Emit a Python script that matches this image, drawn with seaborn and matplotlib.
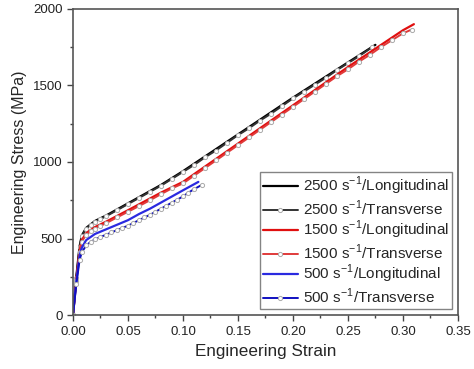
import numpy as np
import pandas as pd
import matplotlib
matplotlib.use("Agg")
import matplotlib.pyplot as plt
import seaborn as sns
from matplotlib.ticker import MultipleLocator

# === Data ===
strain_2500_l = [0, 0.003, 0.006, 0.008, 0.012, 0.02, 0.03, 0.05, 0.08, 0.10, 0.125, 0.15, 0.175, 0.20, 0.225, 0.25, 0.275]
stress_2500_l = [0, 250, 450, 520, 570, 615, 650, 730, 850, 940, 1060, 1180, 1300, 1420, 1535, 1650, 1765]
strain_2500_t = [0, 0.003, 0.006, 0.008, 0.012, 0.016, 0.02, 0.025, 0.03, 0.04, 0.05, 0.06, 0.07, 0.08, 0.09, 0.10,
                 0.11, 0.12, 0.13, 0.14, 0.15, 0.16, 0.17, 0.18, 0.19, 0.20, 0.21, 0.22, 0.23, 0.24, 0.25, 0.26, 0.272]
stress_2500_t = [0, 245, 445, 515, 565, 590, 610, 628, 645, 685, 725, 765, 805, 845, 890, 935,
                 980, 1030, 1075, 1125, 1175, 1220, 1270, 1315, 1365, 1415, 1460, 1505, 1550, 1600, 1645, 1690, 1750]

strain_1500_l = [0, 0.003, 0.006, 0.008, 0.012, 0.02, 0.03, 0.05, 0.08, 0.10, 0.125, 0.15, 0.175, 0.20, 0.225, 0.25, 0.275, 0.30, 0.31]
stress_1500_l = [0, 230, 420, 490, 535, 575, 610, 685, 800, 870, 995, 1120, 1245, 1370, 1495, 1620, 1740, 1860, 1900]
strain_1500_t = [0, 0.003, 0.006, 0.008, 0.012, 0.016, 0.02, 0.025, 0.03, 0.04, 0.05, 0.06, 0.07, 0.08, 0.09, 0.10,
                 0.11, 0.12, 0.13, 0.14, 0.15, 0.16, 0.17, 0.18, 0.19, 0.20, 0.21, 0.22, 0.23, 0.24, 0.25,
                 0.26, 0.27, 0.28, 0.29, 0.30, 0.308]
stress_1500_t = [0, 225, 410, 480, 525, 548, 565, 583, 600, 638, 675, 712, 750, 790, 828, 860,
                 910, 960, 1010, 1060, 1110, 1160, 1210, 1260, 1310, 1360, 1410, 1460, 1510, 1560, 1605,
                 1655, 1700, 1750, 1795, 1840, 1865]

strain_500_l = [0, 0.003, 0.006, 0.008, 0.012, 0.02, 0.03, 0.04, 0.05, 0.06, 0.07, 0.08, 0.09, 0.10, 0.114]
stress_500_l = [0, 220, 390, 440, 490, 530, 560, 590, 620, 660, 695, 735, 775, 815, 870]
strain_500_t = [0, 0.003, 0.006, 0.008, 0.012, 0.016, 0.02, 0.025, 0.03, 0.035, 0.04, 0.045, 0.05, 0.055, 0.06,
                0.065, 0.07, 0.075, 0.08, 0.085, 0.09, 0.095, 0.10, 0.105, 0.11, 0.117]
stress_500_t = [0, 200, 360, 410, 455, 478, 495, 510, 525, 540, 555, 570, 584, 602, 620,
                638, 655, 675, 695, 715, 735, 755, 775, 800, 822, 850]

labels = ["2500 s$^{-1}$/Longitudinal", "2500 s$^{-1}$/Transverse",
          "1500 s$^{-1}$/Longitudinal", "1500 s$^{-1}$/Transverse",
          "500 s$^{-1}$/Longitudinal", "500 s$^{-1}$/Transverse"]

series = [
    (strain_2500_l, stress_2500_l, labels[0], "black", None),
    (strain_2500_t, stress_2500_t, labels[1], "#333333", "o"),
    (strain_1500_l, stress_1500_l, labels[2], "#e01010", None),
    (strain_1500_t, stress_1500_t, labels[3], "#e03a3a", "o"),
    (strain_500_l, stress_500_l, labels[4], "#2a2ae0", None),
    (strain_500_t, stress_500_t, labels[5], "#1010c0", "o"),
]

sns.set_style("ticks")
plt.rcParams["font.family"] = ["Liberation Sans", "DejaVu Sans"]
plt.rcParams["mathtext.fontset"] = "custom"
plt.rcParams["mathtext.rm"] = "Liberation Sans"

fig, ax = plt.subplots(figsize=(4.74, 3.69), dpi=100)

for x, y, lab, col, mk in series:
    df = pd.DataFrame({"strain": x, "stress": y})
    if mk:
        sns.lineplot(data=df, x="strain", y="stress", ax=ax, color=col, lw=1.4,
                     marker=mk, markersize=3, markerfacecolor="white",
                     markeredgecolor="#aaaaaa", markeredgewidth=0.7, label=lab)
    else:
        sns.lineplot(data=df, x="strain", y="stress", ax=ax, color=col, lw=1.6, label=lab)

ax.set_xlim(0, 0.35)
ax.set_ylim(0, 2000)
ax.xaxis.set_major_locator(MultipleLocator(0.05))
ax.xaxis.set_minor_locator(MultipleLocator(0.025))
ax.yaxis.set_major_locator(MultipleLocator(500))
ax.yaxis.set_minor_locator(MultipleLocator(250))
ax.set_xticks(ax.get_xticks())
ax.set_xticklabels([f"{v:.2f}" for v in ax.get_xticks()])
ax.set_xlim(0, 0.35)
ax.tick_params(axis="both", which="major", length=4, width=1, labelsize=9.5,
               colors="#444444", labelcolor="#222222")
ax.tick_params(axis="both", which="minor", length=2.5, width=1, colors="#444444")
for s in ax.spines.values():
    s.set_color("#555555")
    s.set_linewidth(1.2)

ax.set_xlabel("Engineering Strain", fontsize=12.3, labelpad=5)
ax.set_ylabel("Engineering Stress (MPa)", fontsize=11.5, labelpad=4)

leg = ax.legend(loc="lower right", fontsize=11, frameon=True, fancybox=False,
                edgecolor="#666666", handlelength=2.3, borderaxespad=0.4,
                labelspacing=0.08, handletextpad=0.3, borderpad=0.2)
leg.get_frame().set_linewidth(1)

fig.subplots_adjust(left=0.154, right=0.966, top=0.976, bottom=0.146)
plt.savefig("out.png", dpi=100)
